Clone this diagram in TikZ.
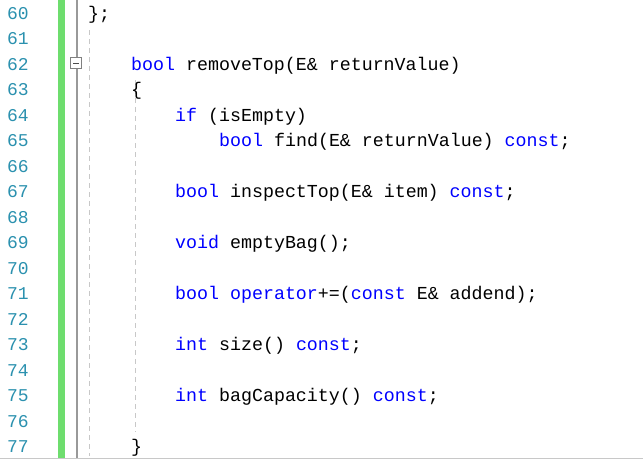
\documentclass[tikz,border=0pt]{standalone}
\usepackage{fontspec}
\setmonofont{Liberation Mono}
\definecolor{lnum}{HTML}{2B91AF}
\definecolor{kw}{HTML}{0000FF}
\definecolor{bar}{HTML}{6EDD6E}
\definecolor{guide}{HTML}{C8C8C8}
\newcommand{\kw}[1]{\textcolor{kw}{#1}}
\tikzset{
  numtext/.style={anchor=base east, inner sep=0pt, text=lnum, font=\ttfamily\fontsize{18}{20}\selectfont},
  codetext/.style={anchor=base west, inner sep=0pt, font=\ttfamily\fontsize{18.3}{20}\selectfont}
}
\begin{document}
\begin{tikzpicture}[x=1pt,y=-1pt]
\useasboundingbox[fill=white] (0,0) rectangle (643,461);
% gutter
\fill[bar] (58,0) rectangle (65,458);
\draw[gray!80, line width=1.5pt] (77,0) -- (77,458);
\draw[guide, dash pattern=on 5pt off 4pt, line width=1pt] (89,30) -- (89,456);
\draw[guide, dash pattern=on 5pt off 4pt, line width=1pt] (135,80) -- (135,432);
\node[draw=gray, fill=white, minimum size=11pt, inner sep=0pt] (fold) at (76,63) {};
\draw[black!70] ([xshift=-3pt]fold.center) -- ([xshift=3pt]fold.center);
\draw[guide] (0,458.5) -- (643,458.5);
% line numbers
\foreach \n [count=\i from 0] in {60,...,77}
  \node[numtext] (n\n) at (29,19+25.5*\i) {\n};
% code
\node[codetext] (l60) at (88,19) {\};};
\node[codetext] (l62) at (131,70) {\kw{bool} removeTop(E\& returnValue)};
\node[codetext] (l63) at (131,95.5) {\{};
\node[codetext] (l64) at (175,121) {\kw{if} (isEmpty)};
\node[codetext] (l65) at (219,146.5) {\kw{bool} find(E\& returnValue) \kw{const};};
\node[codetext] (l67) at (175,197.5) {\kw{bool} inspectTop(E\& item) \kw{const};};
\node[codetext] (l69) at (175,248.5) {\kw{void} emptyBag();};
\node[codetext] (l71) at (175,299.5) {\kw{bool} \kw{operator}+=(\kw{const} E\& addend);};
\node[codetext] (l73) at (175,350.5) {\kw{int} size() \kw{const};};
\node[codetext] (l75) at (175,401.5) {\kw{int} bagCapacity() \kw{const};};
\node[codetext] (l77) at (131,452.5) {\}};
\end{tikzpicture}
\end{document}
